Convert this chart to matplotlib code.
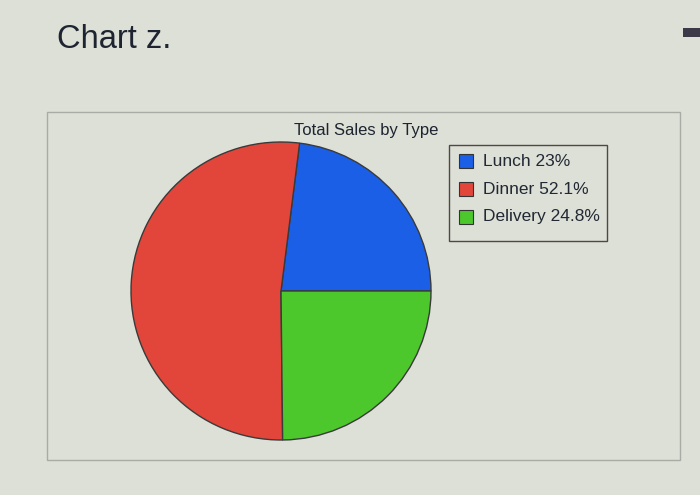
import matplotlib.pyplot as plt
from matplotlib.patches import Rectangle

# Du lieu
labels = ["Lunch", "Dinner", "Delivery"]
values = [23.0, 52.1, 24.8]
colors = ["#1a5fe6", "#e2463a", "#4cc82c"]

W, H = 700, 495
bg = "#dde0d6"

fig = plt.figure(figsize=(W / 100, H / 100), dpi=100)
fig.patch.set_facecolor(bg)
plt.rcParams["font.family"] = ["Liberation Sans", "DejaVu Sans"]


def px(x0, y0, x1, y1):
    # pixel box (top-left origin) -> figure fraction
    return [x0 / W, 1 - y1 / H, (x1 - x0) / W, (y1 - y0) / H]


# khung bieu do
fig.patches.append(Rectangle((47 / W, 1 - 460 / H), (680 - 47) / W, (460 - 112) / H,
                             transform=fig.transFigure, facecolor="none",
                             edgecolor="#a9aca4", linewidth=1.0))
# vet den goc tren phai
fig.patches.append(Rectangle((683 / W, 1 - 37 / H), 17 / W, 9 / H,
                             transform=fig.transFigure, facecolor="#3c3a48",
                             edgecolor="none"))

fig.text(57 / W, 1 - 40 / H, "Chart z.", fontsize=23.5, color="#1e2430",
         va="center", ha="left")

ax = fig.add_axes(px(281 - 150, 291 - 149, 281 + 150, 291 + 149))
ax.pie(values, colors=colors, startangle=0, counterclock=True, radius=1,
       wedgeprops={"edgecolor": "#3a3a3a", "linewidth": 1.0})
ax.set_aspect("auto")
ax.set_xlim(-1.0, 1.0)
ax.set_ylim(-1.0, 1.0)
ax.axis("off")

fig.text(366 / W, 1 - 131 / H, "Total Sales by Type", fontsize=12,
         color="#1e2430", ha="center", va="center")

# chu giai
lx0, ly0, lx1, ly1 = 449, 145, 607, 241
fig.patches.append(Rectangle((lx0 / W, 1 - ly1 / H), (lx1 - lx0) / W, (ly1 - ly0) / H,
                             transform=fig.transFigure, facecolor="none",
                             edgecolor="#4a4a4a", linewidth=1.0))
for i, (lab, val, c) in enumerate(zip(labels, values, colors)):
    yc = 161 + i * 28
    fig.patches.append(Rectangle((459 / W, 1 - (yc + 7) / H), 14 / W, 14 / H,
                                 transform=fig.transFigure, facecolor=c,
                                 edgecolor="#333333", linewidth=0.8))
    txt = f"{lab} {val:g}%"
    fig.text(483 / W, 1 - yc / H, txt, fontsize=12.5, color="#222834",
             ha="left", va="center")

fig.savefig("out.png", dpi=100, facecolor=bg)
